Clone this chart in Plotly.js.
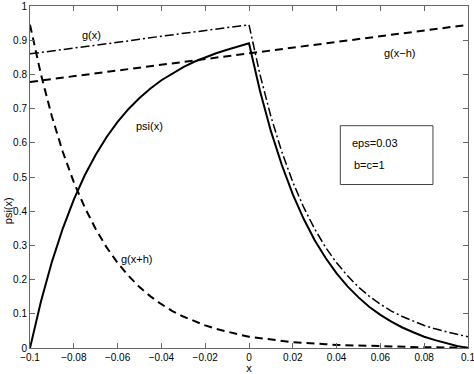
<!DOCTYPE html>
<html>
<head>
<meta charset="utf-8">
<script src="https://cdn.plot.ly/plotly-3.0.1.min.js"></script>
<style>html,body{margin:0;padding:0;background:#fff;}#chart{width:474px;height:374px;}</style>
</head>
<body>
<div id="chart"></div>
<script>
// x grid shared by psi(x), g(x), g(x+h)
const xGrid = [-0.1, -0.095, -0.09, -0.085, -0.08, -0.075, -0.07, -0.065, -0.06, -0.055, -0.05,
  -0.045, -0.04, -0.035, -0.03, -0.025, -0.02, -0.015, -0.01, -0.005, 0,
  0.005, 0.01, 0.015, 0.02, 0.025, 0.03, 0.035, 0.04, 0.045, 0.05,
  0.055, 0.06, 0.065, 0.07, 0.075, 0.08, 0.085, 0.09, 0.095, 0.1];

// psi(x) — solid
const psiVals = [0, 0.136, 0.252, 0.350, 0.434, 0.505, 0.565, 0.617, 0.661, 0.699, 0.731,
  0.759, 0.783, 0.803, 0.821, 0.837, 0.850, 0.862, 0.872, 0.882, 0.891,
  0.752, 0.634, 0.535, 0.449, 0.377, 0.315, 0.263, 0.218, 0.180, 0.148,
  0.120, 0.097, 0.077, 0.060, 0.046, 0.033, 0.023, 0.014, 0.006, 0];

// g(x) — dash-dot
const gVals = [0.860, 0.864, 0.869, 0.873, 0.877, 0.881, 0.886, 0.890, 0.894, 0.898, 0.903,
  0.907, 0.911, 0.915, 0.920, 0.924, 0.928, 0.932, 0.937, 0.941, 0.945,
  0.800, 0.677, 0.573, 0.485, 0.411, 0.348, 0.294, 0.249, 0.211, 0.178,
  0.151, 0.128, 0.108, 0.092, 0.078, 0.066, 0.056, 0.047, 0.040, 0.033];

// g(x+h) — dashed
const gPlusVals = [0.945, 0.800, 0.677, 0.573, 0.485, 0.411, 0.348, 0.294, 0.249, 0.211, 0.178,
  0.151, 0.128, 0.108, 0.092, 0.078, 0.066, 0.056, 0.047, 0.040, 0.033,
  0.029, 0.024, 0.021, 0.017, 0.015, 0.012, 0.011, 0.009, 0.008, 0.006,
  0.005, 0.005, 0.004, 0.003, 0.003, 0.002, 0.002, 0.002, 0.001, 0.001];

// g(x-h) — dashed (straight line)
const gMinusX = [-0.1, 0.1];
const gMinusVals = [0.778, 0.945];

const xTickVals = [-0.1, -0.08, -0.06, -0.04, -0.02, 0, 0.02, 0.04, 0.06, 0.08, 0.1];
const xTickText = ['\u22120.1', '\u22120.08', '\u22120.06', '\u22120.04', '\u22120.02', '0', '0.02', '0.04', '0.06', '0.08', '0.1'];
const yTickVals = [0, 0.1, 0.2, 0.3, 0.4, 0.5, 0.6, 0.7, 0.8, 0.9, 1];
const yTickText = ['0', '0.1', '0.2', '0.3', '0.4', '0.5', '0.6', '0.7', '0.8', '0.9', '1'];

const traces = [
  {x: xGrid, y: gVals, mode: 'lines', name: 'g(x)', line: {color: '#000', width: 1.5, dash: '9px,3px,2px,3px'}},
  {x: gMinusX, y: gMinusVals, mode: 'lines', name: 'g(x-h)', line: {color: '#000', width: 2, dash: '8px,5px'}},
  {x: xGrid, y: gPlusVals, mode: 'lines', name: 'g(x+h)', line: {color: '#000', width: 2, dash: '8px,5px'}},
  {x: xGrid, y: psiVals, mode: 'lines', name: 'psi(x)', line: {color: '#000', width: 2}}
];

const fontFam = 'Liberation Sans, Arial, Helvetica, sans-serif';
const axisCommon = {
  showline: true, linecolor: '#666', linewidth: 1, mirror: 'ticks',
  ticks: 'inside', ticklen: 5, tickcolor: '#666', tickwidth: 1,
  showgrid: false, zeroline: false, ticklabeloverflow: 'allow',
  tickfont: {family: fontFam, size: 10, color: '#000'}
};

const layout = {
  width: 474, height: 374,
  margin: {l: 30, r: 6, t: 6, b: 26},
  paper_bgcolor: '#fff', plot_bgcolor: '#fff',
  showlegend: false,
  font: {family: fontFam, size: 11, color: '#000'},
  xaxis: Object.assign({}, axisCommon, {
    range: [-0.1, 0.1], tickmode: 'array', tickvals: xTickVals, ticktext: xTickText,
    title: {text: 'x', font: {family: fontFam, size: 11}, standoff: 0}, automargin: false
  }),
  yaxis: Object.assign({}, axisCommon, {
    range: [0, 1], tickmode: 'array', tickvals: yTickVals, ticktext: yTickText, automargin: false
  }),
  annotations: [
    {x: -0.0718, y: 0.915, xref: 'x', yref: 'y', text: 'g(x)', showarrow: false, font: {size: 11}},
    {x: 0.0688, y: 0.863, xref: 'x', yref: 'y', text: 'g(x\u2212h)', showarrow: false, font: {size: 11}},
    {x: -0.0453, y: 0.648, xref: 'x', yref: 'y', text: 'psi(x)', showarrow: false, font: {size: 11}},
    {x: -0.0512, y: 0.26, xref: 'x', yref: 'y', text: 'g(x+h)', showarrow: false, font: {size: 11}},
    {x: 0.046, y: 0.599, xref: 'x', yref: 'y', text: 'eps=0.03', showarrow: false, xanchor: 'left', font: {size: 11}},
    {x: 0.0472, y: 0.535, xref: 'x', yref: 'y', text: 'b=c=1', showarrow: false, xanchor: 'left', font: {size: 11}},
    {x: 0, y: 0.4, xref: 'paper', yref: 'y', xanchor: 'center', yanchor: 'middle', xshift: -22, text: 'psi(x)', textangle: -90, showarrow: false, font: {size: 11}}
  ],
  shapes: [
    {type: 'rect', xref: 'x', yref: 'y', x0: 0.0417, x1: 0.084, y0: 0.478, y1: 0.650, line: {color: '#444', width: 1}}
  ]
};

Plotly.newPlot('chart', traces, layout, {displayModeBar: false, staticPlot: true});
</script>
</body>
</html>
